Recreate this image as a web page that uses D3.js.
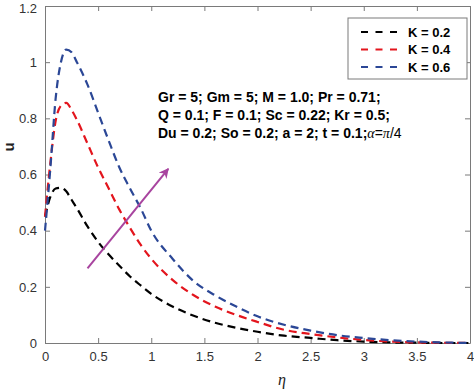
<!DOCTYPE html>
<html>
<head>
<meta charset="utf-8">
<script src="https://cdn.jsdelivr.net/npm/d3@7"></script>
<style>
  body{margin:0;background:#fff;}
  svg{display:block;font-family:"Liberation Sans",Arial,sans-serif;}
</style>
</head>
<body>
<script>
// η grid shared by the three curves
const eta = [0,0.05,0.1,0.15,0.2,0.25,0.3,0.4,0.5,0.6,0.7,0.8,0.9,1.0,1.2,1.4,1.6,1.8,2.0,2.25,2.5,2.75,3.0,3.25,3.5,3.75,4.0]
const uK02 = [0.45,0.52,0.55,0.553,0.54,0.51,0.48,0.415,0.36,0.315,0.275,0.237,0.205,0.175,0.13,0.097,0.072,0.054,0.04,0.026,0.018,0.01,0.005,0.002,0.001,0,0]
const uK04 = [0.45,0.64,0.79,0.845,0.855,0.83,0.795,0.71,0.625,0.55,0.475,0.41,0.35,0.30,0.225,0.17,0.13,0.10,0.075,0.047,0.032,0.02,0.011,0.005,0.002,0.001,0]
const uK06 = [0.40,0.62,0.87,1.00,1.045,1.035,1.00,0.92,0.82,0.72,0.625,0.55,0.48,0.40,0.30,0.22,0.17,0.13,0.095,0.065,0.044,0.028,0.018,0.01,0.005,0.002,0]

const seriesNames = ["K = 0.2","K = 0.4","K = 0.6"]
const seriesColors = ["#000000","#e3151d","#2b4796"]
const xTicks = [0,0.5,1,1.5,2,2.5,3,3.5,4]
const yTicks = [0,0.2,0.4,0.6,0.8,1,1.2]
const noteLines = [
  "Gr = 5; Gm = 5; M = 1.0; Pr = 0.71;",
  "Q = 0.1; F = 0.1; Sc = 0.22; Kr = 0.5;",
  "Du = 0.2; So = 0.2; a = 2; t = 0.1;"
]
// arrow start / end in data units (η, u)
const arrowFrom = [0.4, 0.266]
const arrowTo = [1.16, 0.62]

const width = 474, height = 389
const margin = {top:6, right:4, bottom:46, left:45}

const svg = d3.select("body").append("svg")
  .attr("width", width).attr("height", height)

const x = d3.scaleLinear().domain([0,4]).range([margin.left, width-margin.right])
const y = d3.scaleLinear().domain([0,1.2]).range([height-margin.bottom, margin.top])

const axisColor = "#7a7a7a", labelColor = "#333"

// box + ticks on all four sides (matlab style)
const fmt = d => d3.format("~g")(d)
const gx = svg.append("g").attr("transform",`translate(0,${y(0)})`)
  .call(d3.axisBottom(x).tickValues(xTicks).tickFormat(fmt).tickSizeInner(-5).tickSizeOuter(0).tickPadding(9))
const gxTop = svg.append("g").attr("transform",`translate(0,${y(1.2)})`)
  .call(d3.axisTop(x).tickValues(xTicks).tickFormat("").tickSizeInner(-5).tickSizeOuter(0))
const gy = svg.append("g").attr("transform",`translate(${x(0)},0)`)
  .call(d3.axisLeft(y).tickValues(yTicks).tickFormat(fmt).tickSizeInner(-5).tickSizeOuter(0).tickPadding(8))
const gyR = svg.append("g").attr("transform",`translate(${x(4)},0)`)
  .call(d3.axisRight(y).tickValues(yTicks).tickFormat("").tickSizeInner(-5).tickSizeOuter(0))

for (const g of [gx,gxTop,gy,gyR]){
  g.select(".domain").attr("stroke", axisColor).attr("stroke-width",1)
  g.selectAll(".tick line").attr("stroke", axisColor)
  g.selectAll(".tick text").attr("fill", labelColor).style("font-size","13px")
    .style("font-family",'"Liberation Sans",Arial,sans-serif')
}
// top label sits right at the edge, nudge it in a bit
gy.selectAll(".tick text").filter(d=>d==1.2).attr("dy","0.5em")

// curves
const line = d3.line().x(d=>x(d[0])).y(d=>y(d[1])).curve(d3.curveMonotoneX)
const allSeries = [uK02,uK04,uK06]
allSeries.forEach((vals,i)=>{
  svg.append("path")
    .datum(eta.map((e,j)=>[e, vals[j]]))
    .attr("d", line)
    .attr("fill","none")
    .attr("stroke", seriesColors[i])
    .attr("stroke-width", 2.2)
    .attr("stroke-dasharray","8,5")
})

// axis labels
svg.append("text").text("η")
  .attr("x", 282).attr("y", 385)
  .attr("text-anchor","middle")
  .style("font-family",'"Liberation Serif","Times New Roman",serif')
  .style("font-style","italic").style("font-size","16px").attr("fill","#222")

svg.append("text").text("u")
  .attr("transform","translate(14,147) rotate(-90)")
  .attr("text-anchor","middle")
  .style("font-size","15px").style("font-weight","bold").attr("fill","#222")

// legend
const lg = svg.append("g")
lg.append("rect").attr("x",348).attr("y",18).attr("width",119).attr("height",61)
  .attr("fill","#fff").attr("stroke",axisColor).attr("stroke-width",1)
seriesNames.forEach((name,i)=>{
  const yy = 32 + i*17.5
  lg.append("line").attr("x1",361).attr("x2",401).attr("y1",yy).attr("y2",yy)
    .attr("stroke",seriesColors[i]).attr("stroke-width",2.2).attr("stroke-dasharray","7,7.5")
  lg.append("text").text(name).attr("x",408).attr("y",yy+4.5)
    .style("font-size","13px").style("font-weight","bold").attr("fill","#000")
})

// parameter note
const note = svg.append("g")
noteLines.forEach((t,i)=>{
  const tx = note.append("text").attr("x",158).attr("y",102+i*18)
    .style("font-size","14px").style("font-weight","bold").attr("fill","#000")
  tx.append("tspan").text(t)
  if(i==2){
    tx.append("tspan").text("α").style("font-family",'"Liberation Serif",serif').style("font-style","italic").style("font-weight","normal")
    tx.append("tspan").text("=").style("font-weight","normal")
    tx.append("tspan").text("π").style("font-family",'"Liberation Serif",serif').style("font-style","italic").style("font-weight","normal")
    tx.append("tspan").text("/4").style("font-weight","normal")
  }
})

// arrow
const arrowColor = "#a8449f"
const defs = svg.append("defs")
defs.append("marker").attr("id","ah")
  .attr("viewBox","0 0 10 10").attr("refX",9).attr("refY",5)
  .attr("markerWidth",5).attr("markerHeight",5).attr("orient","auto")
  .append("path").attr("d","M0,0 L10,5 L0,10 L3,5 Z").attr("fill",arrowColor)
svg.append("line")
  .attr("x1",x(arrowFrom[0])).attr("y1",y(arrowFrom[1]))
  .attr("x2",x(arrowTo[0])).attr("y2",y(arrowTo[1]))
  .attr("stroke",arrowColor).attr("stroke-width",2)
  .attr("marker-end","url(#ah)")
</script>
</body>
</html>
